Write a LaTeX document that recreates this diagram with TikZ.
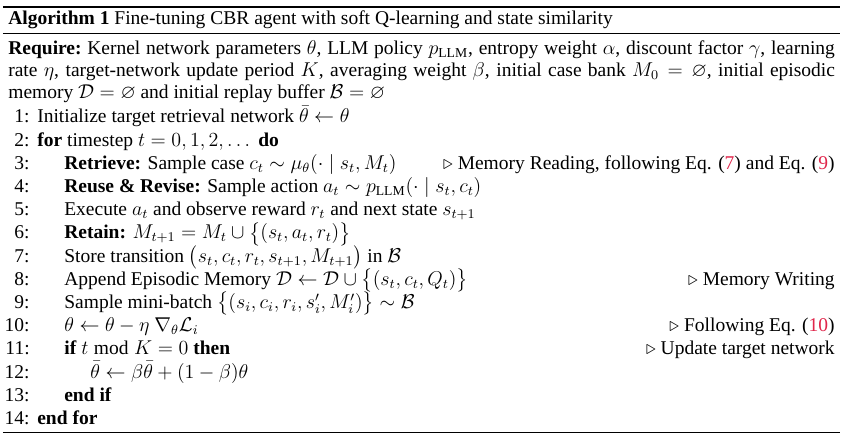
\documentclass[tikz,border=0pt]{standalone}
\usepackage{fontspec}
\usepackage{amsmath,amssymb}
\setmainfont{Liberation Serif}
\definecolor{refred}{HTML}{E0264B}
\begin{document}
\begin{tikzpicture}[x=0.6pt,y=-0.6pt,
  ln/.style={anchor=base west,inner sep=0pt,font=\fontsize{11.7}{13}\selectfont},
  num/.style={anchor=base east,inner sep=0pt,font=\fontsize{11.7}{13}\selectfont},
  cmt/.style={anchor=base east,inner sep=0pt,font=\fontsize{11.7}{13}\selectfont}]
\useasboundingbox (0,0) rectangle (843,442);
\draw[line width=0.8pt] (3,7) -- (840,7);
\draw[line width=0.5pt] (3,33) -- (840,33);
\draw[line width=0.5pt] (3,432) -- (840,432);
\node[ln] (cap) at (8,25) {\textbf{Algorithm 1} Fine-tuning CBR agent with soft Q-learning and state similarity};
\node[anchor=base west,inner sep=0pt,font=\fontsize{11.7}{13.2}\selectfont,text width=496pt,align=justify] (req) at (8,55)
 {\hangindent=17.4pt\hangafter=1 \textbf{Require:}\ Kernel network parameters $\theta$, LLM policy $p_{\mathrm{LLM}}$, entropy weight $\alpha$, discount factor $\gamma$, learning\linebreak rate $\eta$, target-network update period $K$, averaging weight $\beta$, initial case bank $M_0=\varnothing$, initial episodic\linebreak memory $\mathcal{D}=\varnothing$ and initial replay buffer $\mathcal{B}=\varnothing$};
\foreach \i in {1,...,14}{
  \node[num] (n\i) at (30,{123+(\i-1)*23.2}) {\i:};
}
\node[ln] (l1) at (37,123) {Initialize target retrieval network $\bar\theta\leftarrow\theta$};
\node[ln] (l2) at (37,146.2) {\textbf{for} timestep $t=0,1,2,\dots$ \textbf{do}};
\node[ln] (l3) at (64,169.4) {\textbf{Retrieve:} Sample case $c_t\sim\mu_\theta(\cdot\mid s_t,M_t)$};
\node[cmt] (c3) at (835,169.4) {$\triangleright$ Memory Reading, following Eq. ({\color{refred}7}) and Eq. ({\color{refred}9})};
\node[ln] (l4) at (64,192.6) {\textbf{Reuse \& Revise:} Sample action $a_t\sim p_{\mathrm{LLM}}(\cdot\mid s_t,c_t)$};
\node[ln] (l5) at (64,215.8) {Execute $a_t$ and observe reward $r_t$ and next state $s_{t+1}$};
\node[ln] (l6) at (64,239) {\textbf{Retain:} $M_{t+1}=M_t\cup\bigl\{(s_t,a_t,r_t)\bigr\}$};
\node[ln] (l7) at (64,262.2) {Store transition $\bigl(s_t,c_t,r_t,s_{t+1},M_{t+1}\bigr)$ in $\mathcal{B}$};
\node[ln] (l8) at (64,285.4) {Append Episodic Memory $\mathcal{D}\leftarrow\mathcal{D}\cup\bigl\{(s_t,c_t,Q_t)\bigr\}$};
\node[cmt] (c8) at (835,285.4) {$\triangleright$ Memory Writing};
\node[ln] (l9) at (64,308.6) {Sample mini-batch $\bigl\{(s_i,c_i,r_i,s_i',M_i')\bigr\}\sim\mathcal{B}$};
\node[ln] (l10) at (64,331.8) {$\theta\leftarrow\theta-\eta\ \nabla_\theta\mathcal{L}_i$};
\node[cmt] (c10) at (835,331.8) {$\triangleright$ Following Eq. ({\color{refred}10})};
\node[ln] (l11) at (64,355) {\textbf{if} $t \bmod K=0$ \textbf{then}};
\node[cmt] (c11) at (835,355) {$\triangleright$ Update target network};
\node[ln] (l12) at (90,378.2) {$\bar\theta\leftarrow\beta\bar\theta+(1-\beta)\theta$};
\node[ln] (l13) at (64,401.4) {\textbf{end if}};
\node[ln] (l14) at (37,424.6) {\textbf{end for}};
\end{tikzpicture}
\end{document}
